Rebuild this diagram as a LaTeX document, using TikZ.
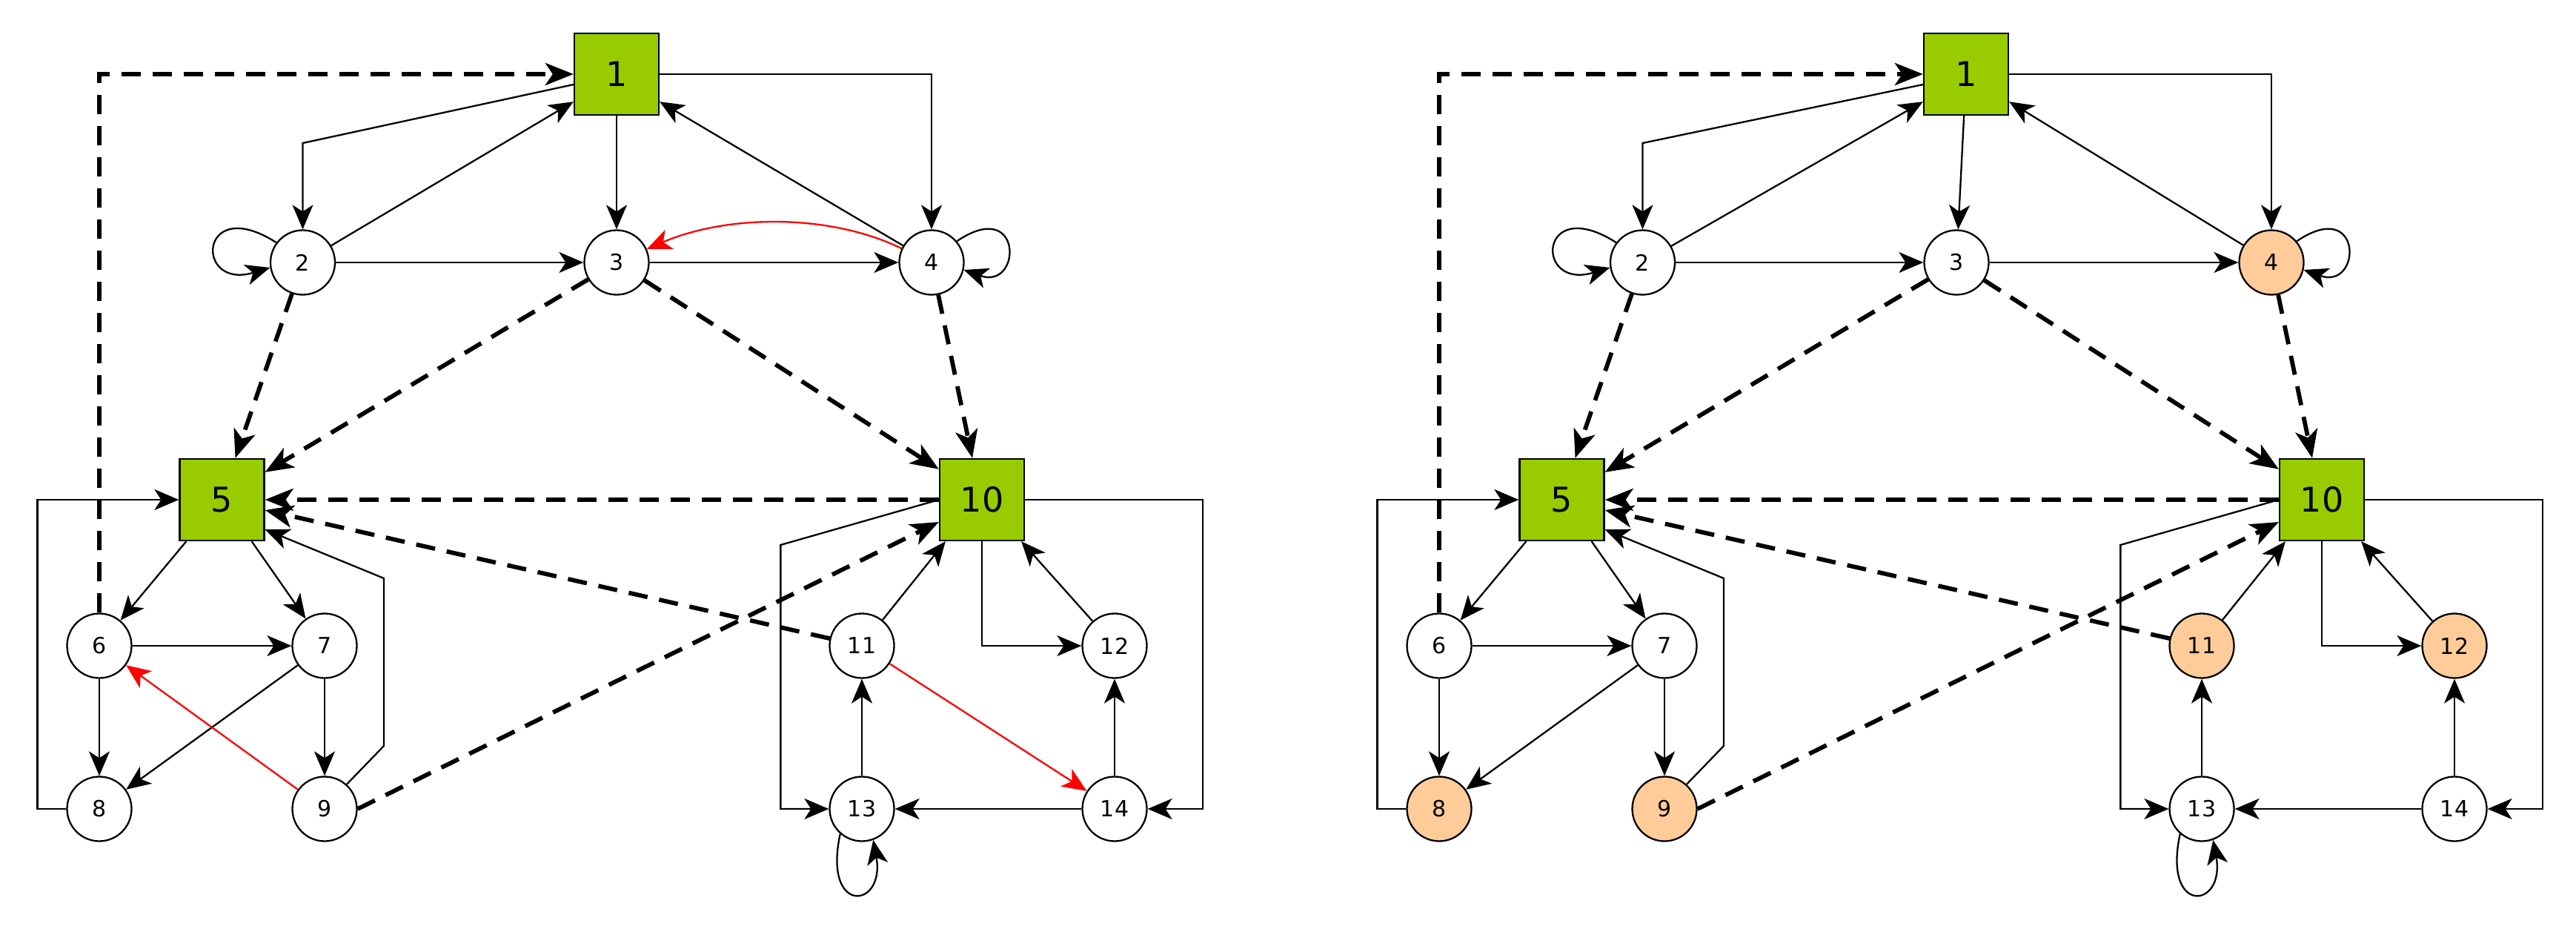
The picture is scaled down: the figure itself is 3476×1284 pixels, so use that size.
\documentclass[tikz,border=0pt]{standalone}
\usepackage{fontspec}
\setmainfont{DejaVu Sans}
\usetikzlibrary{arrows.meta,calc}
\definecolor{boxgreen}{HTML}{99CC00}
\definecolor{peach}{HTML}{FFCC99}
\tikzset{
  circ/.style={circle,draw,line width=2.3pt,minimum size=87pt,inner sep=0pt,
    font=\fontsize{30}{34}\selectfont},
  sq/.style={rectangle,draw,line width=2.3pt,fill=boxgreen,minimum width=114pt,
    minimum height=110pt,inner sep=0pt,font=\fontsize{46}{52}\selectfont},
  thinarr/.style={line width=2.3pt,-{Stealth[length=33pt,width=28pt,inset=9pt]}},
  dasharr/.style={line width=5.8pt,dash pattern=on 26pt off 16pt,
    -{Stealth[length=38pt,width=30pt,inset=10pt,fill=black]}},
  redarr/.style={thinarr,red},
}
\newcommand\drawgraph[1]{%
  % nodes
  \node[sq] (n1) at (#1,100) {1};
  \node[circ,fill=white] (n2) at (408.5,354) {2};
  \node[circ,fill=white] (n3) at (832,354) {3};
  \node[circ,hl] (n4) at (1257,354) {4};
  \node[sq] (n5) at (299.5,674) {5};
  \node[sq] (n10) at (1325,674) {10};
  \node[circ,fill=white] (n6) at (134,871) {6};
  \node[circ,fill=white] (n7) at (438,871) {7};
  \node[circ,hl] (n8) at (134,1091) {8};
  \node[circ,hl] (n9) at (438,1091) {9};
  \node[circ,hl] (n11) at (1163,871) {11};
  \node[circ,hl] (n12) at (1504,871) {12};
  \node[circ,fill=white] (n13) at (1163,1091) {13};
  \node[circ,fill=white] (n14) at (1504,1091) {14};
  % top part
  \draw[thinarr] ($(n1.west)+(0,14)$) -- (n2 |- 0,193) -- (n2.north);
  \draw[thinarr] (n2) -- ($(n1.south west)+(0,-19)$);
  \draw[thinarr] (n4) -- ($(n1.south east)+(0,-19)$);
  \draw[thinarr] (n1) -- (n3);
  \draw[thinarr] (n1.east) -- (n4 |- n1.east) -- (n4.north);
  \draw[thinarr] (n2) -- (n3);
  \draw[thinarr] (n3) -- (n4);
  \draw[thinarr] (n2.143) .. controls +(-105,-67) and +(-103,31) .. (n2.189);
  \draw[thinarr] (n4.40) .. controls +(90,-61) and +(79,28) .. (n4.-13);
  % dashed
  \draw[dasharr] (n2) -- ($(n5.north)+(18,0)$);
  \draw[dasharr] (n3) -- ($(n5.north east)+(0,19)$);
  \draw[dasharr] (n3) -- ($(n10.north west)+(0,15)$);
  \draw[dasharr] (n4) -- ($(n10.north)+(-13,0)$);
  \draw[dasharr] (n10.west) -- (n5.east);
  \draw[dasharr] (n11) -- ($(n5.east)+(0,14)$);
  \draw[dasharr] (n9.east) -- ($(n10.west)+(0,30)$);
  \draw[dasharr] (n6.north) -- (n6 |- n1.west) -- (n1.west);
  % left cluster
  \draw[thinarr] (n8.west) -- ++(-39,0) |- (n5.west);
  \draw[thinarr] (n9.48) -- ($(n9)+(80,-85)$) -- ($(n9)+(80,-311)$) -- ($(n5.south east)+(0,-16)$);
  \draw[thinarr] ($(n5.south west)+(10,0)$) -- (n6);
  \draw[thinarr] ($(n5.south east)+(-18,0)$) -- (n7);
  \draw[thinarr] (n6) -- (n7);
  \draw[thinarr] (n6) -- (n8);
  \draw[thinarr] (n7) -- (n9);
  \draw[thinarr] (n7) -- (n8);
  % right cluster
  \draw[thinarr] (n10.west) -- ($(n13.west)+(-65,-356)$) -- ($(n13.west)+(-65,0)$) -- (n13.west);
  \draw[thinarr] (n11) -- ($(n10.south west)+(9,0)$);
  \draw[thinarr] (n10.south) -- (n10 |- n12) -- (n12.west);
  \draw[thinarr] (n12) -- ($(n10.south east)+(-5,0)$);
  \draw[thinarr] (n10.east) -- ++(240,0) |- (n14.east);
  \draw[thinarr] (n14) -- (n13);
  \draw[thinarr] (n13) -- (n11);
  \draw[thinarr] (n14) -- (n12);
  \draw[thinarr] (n13.229) .. controls +(-24,111) and +(17,93) .. (n13.290);
}
\begin{document}
\begin{tikzpicture}[x=1pt,y=-1pt]
  \useasboundingbox[fill=white] (0,0) rectangle (3476,1284);
  \begin{scope}[hl/.style={fill=white}]
    \drawgraph{832}
    \draw[redarr] (n4.155) .. controls +(-96,-47) and +(110,-47) .. (n3.24);
    \draw[redarr] (n9) -- (n6);
    \draw[redarr] (n11) -- (n14);
  \end{scope}
  \begin{scope}[xshift=1808pt,name prefix=R-,hl/.style={fill=peach}]
    \drawgraph{845}
  \end{scope}
\end{tikzpicture}
\end{document}
